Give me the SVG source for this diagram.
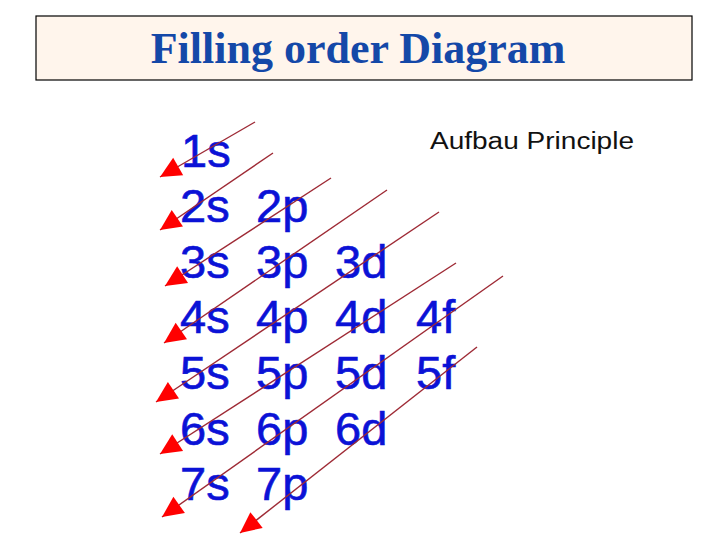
<svg xmlns="http://www.w3.org/2000/svg" width="728" height="546" viewBox="0 0 728 546">
  <style>
    .orb { font-family: "Liberation Sans", Arial, sans-serif; font-size: 47px; fill: #0B12D6; stroke: #0B12D6; stroke-width: 0.6; }
    .conn { stroke: #9E2A35; stroke-width: 1.4; fill: none; marker-end: url(#arrow); }
    .title { font-family: "Liberation Serif", "Times New Roman", serif; font-weight: bold; font-size: 44px; fill: #1448A8; }
    .label { font-family: "Liberation Sans", Arial, sans-serif; font-size: 23px; fill: #111111; }
  </style>
  <defs>
    <marker id="arrow" viewBox="-22 -11 23 22" refX="0" refY="0" markerWidth="23" markerHeight="22" markerUnits="userSpaceOnUse" orient="auto">
      <path d="M0,0 L-21,-10 L-21,10 Z" fill="#FF0000"/>
    </marker>
  </defs>
  <rect width="728" height="546" fill="#FFFFFF"/>

  <g id="title">
    <rect x="36" y="16" width="656" height="64" fill="#FFF5EC" stroke="#000000" stroke-width="1.2"/>
    <text class="title" x="358" y="63" text-anchor="middle">Filling order Diagram</text>
  </g>

  <g id="aufbau-label">
    <text class="label" x="430" y="149" textLength="204" lengthAdjust="spacingAndGlyphs">Aufbau Principle</text>
  </g>

  <g id="row1"><text class="orb" x="181" y="167">1s</text></g>
  <g id="row2"><text class="orb" x="180" y="222">2s</text><text class="orb" x="256" y="222">2p</text></g>
  <g id="row3"><text class="orb" x="180" y="278">3s</text><text class="orb" x="256" y="278">3p</text><text class="orb" x="335" y="278">3d</text></g>
  <g id="row4"><text class="orb" x="180" y="333">4s</text><text class="orb" x="256" y="333">4p</text><text class="orb" x="335" y="333">4d</text><text class="orb" x="416" y="333">4f</text></g>
  <g id="row5"><text class="orb" x="180" y="389">5s</text><text class="orb" x="256" y="389">5p</text><text class="orb" x="335" y="389">5d</text><text class="orb" x="416" y="389">5f</text></g>
  <g id="row6"><text class="orb" x="180" y="445">6s</text><text class="orb" x="256" y="445">6p</text><text class="orb" x="335" y="445">6d</text></g>
  <g id="row7"><text class="orb" x="180" y="500">7s</text><text class="orb" x="256" y="500">7p</text></g>

  <g id="connectors">
    <line class="conn" x1="255" y1="122" x2="160" y2="177"/>
    <line class="conn" x1="273" y1="153" x2="160" y2="230"/>
    <line class="conn" x1="331" y1="178" x2="165" y2="286"/>
    <line class="conn" x1="387" y1="190" x2="164" y2="343"/>
    <line class="conn" x1="439" y1="212" x2="156" y2="402"/>
    <line class="conn" x1="456" y1="263" x2="160" y2="454"/>
    <line class="conn" x1="503" y1="276" x2="162" y2="517"/>
    <line class="conn" x1="477" y1="347" x2="240" y2="533"/>
  </g>
</svg>
